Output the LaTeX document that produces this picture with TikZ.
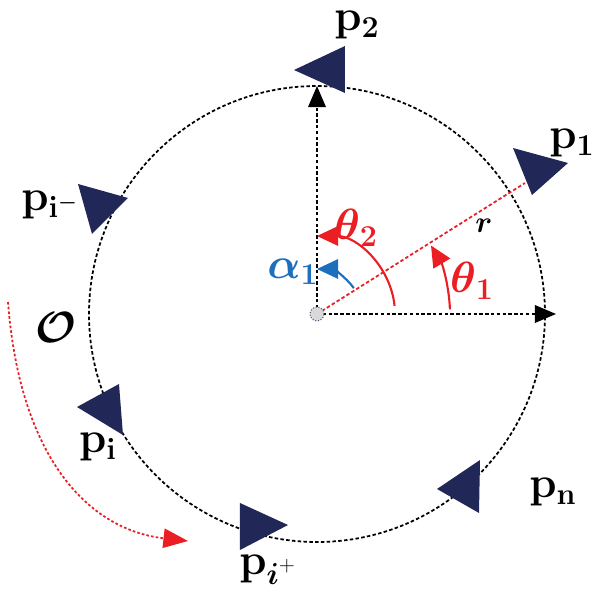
\documentclass[tikz,border=0pt]{standalone}
\usepackage{amsmath}
\usetikzlibrary{arrows.meta}
\definecolor{navy}{RGB}{33,39,86}
\definecolor{myred}{RGB}{235,30,35}
\definecolor{myblue}{RGB}{30,110,190}
\begin{document}
\begin{tikzpicture}[x=0.02cm,y=-0.02cm,
  dots/.style={line width=1pt,dash pattern=on 2pt off 1.3pt},
  tri/.style={fill=navy},
  lab/.style={font=\fontsize{23}{26}\selectfont,inner sep=0pt},
  ang/.style={line width=1.2pt,-{Triangle[length=12pt,width=11pt]}}]
\useasboundingbox (0,0) rectangle (600,591);
\coordinate (O) at (317,314);
\draw[dots] (O) circle[radius=228*0.02cm];
\coordinate (top) at (317,86);
\coordinate (right) at (556,314);
\coordinate (P1) at (525,183);
\draw[dots,-{Triangle[length=12pt,width=10pt]}] (O) -- (top);
\draw[dots,-{Triangle[length=12pt,width=10pt]}] (O) -- (right);
\draw[dots,myred] (O) -- (P1);
\fill[gray!30] (O) circle[radius=7*0.02cm];
\draw[navy!80,densely dotted,line width=0.6pt] (O) circle[radius=7*0.02cm];
% triangles
\fill[tri] (294,70) -- (345,46) -- (345,93) -- cycle;
\fill[tri] (513,148) -- (568,163) -- (532,195) -- cycle;
\fill[tri] (78,184) -- (128,198) -- (92,234) -- cycle;
\fill[tri] (77,407) -- (119,384) -- (123,435) -- cycle;
\fill[tri] (240,503) -- (288,525) -- (240,550) -- cycle;
\fill[tri] (437,489) -- (480,460) -- (479,513) -- cycle;
% angle arcs
\draw[ang,myred] ([shift={(2:133*0.02cm)}]O) arc[start angle=2,end angle=31,radius=133*0.02cm];
\draw[ang,myred] ([shift={(6:78*0.02cm)}]O) arc[start angle=6,end angle=90,radius=78*0.02cm];
\draw[ang,myblue] ([shift={(35:45*0.02cm)}]O) arc[start angle=35,end angle=90,radius=45*0.02cm];
% red travel arrow
\coordinate (rs) at (8,302);
\coordinate (re) at (188,541);
\draw[myred,line width=1pt,dash pattern=on 1.5pt off 1.2pt,-{Triangle[length=14pt,width=11pt]}] (rs) .. controls (20,460) and (90,530) .. (re);
% labels
\node[lab] (l2) at (357,25) {$\mathbf{p}_{\mathbf{2}}$};
\node[lab] (l1) at (572,143) {$\mathbf{p}_{\mathbf{1}}$};
\node[lab] (lim) at (50,205) {$\mathbf{p}_{\mathbf{i}^{\boldsymbol{-}}}$};
\node[lab] (li) at (98,447) {$\mathbf{p}_{\mathbf{i}}$};
\node[lab] (ln) at (553,492) {$\mathbf{p}_{\mathbf{n}}$};
\node[lab] (lip) at (268,570) {$\mathbf{p}_{\boldsymbol{i}^{\mathbf{+}}}$};
\node[lab] (lO) at (56,328) {$\boldsymbol{\mathcal{O}}$};
\node[font=\fontsize{18}{20}\selectfont] (lr) at (484,226) {$\boldsymbol{r}$};
\node[lab,text=myred] (t2) at (356,228) {$\boldsymbol{\theta}_{\mathbf{2}}$};
\node[lab,text=myred] (t1) at (472,281) {$\boldsymbol{\theta}_{\mathbf{1}}$};
\node[lab,text=myblue] (a1) at (293,272) {$\boldsymbol{\alpha}_{\mathbf{1}}$};
\end{tikzpicture}
\end{document}
